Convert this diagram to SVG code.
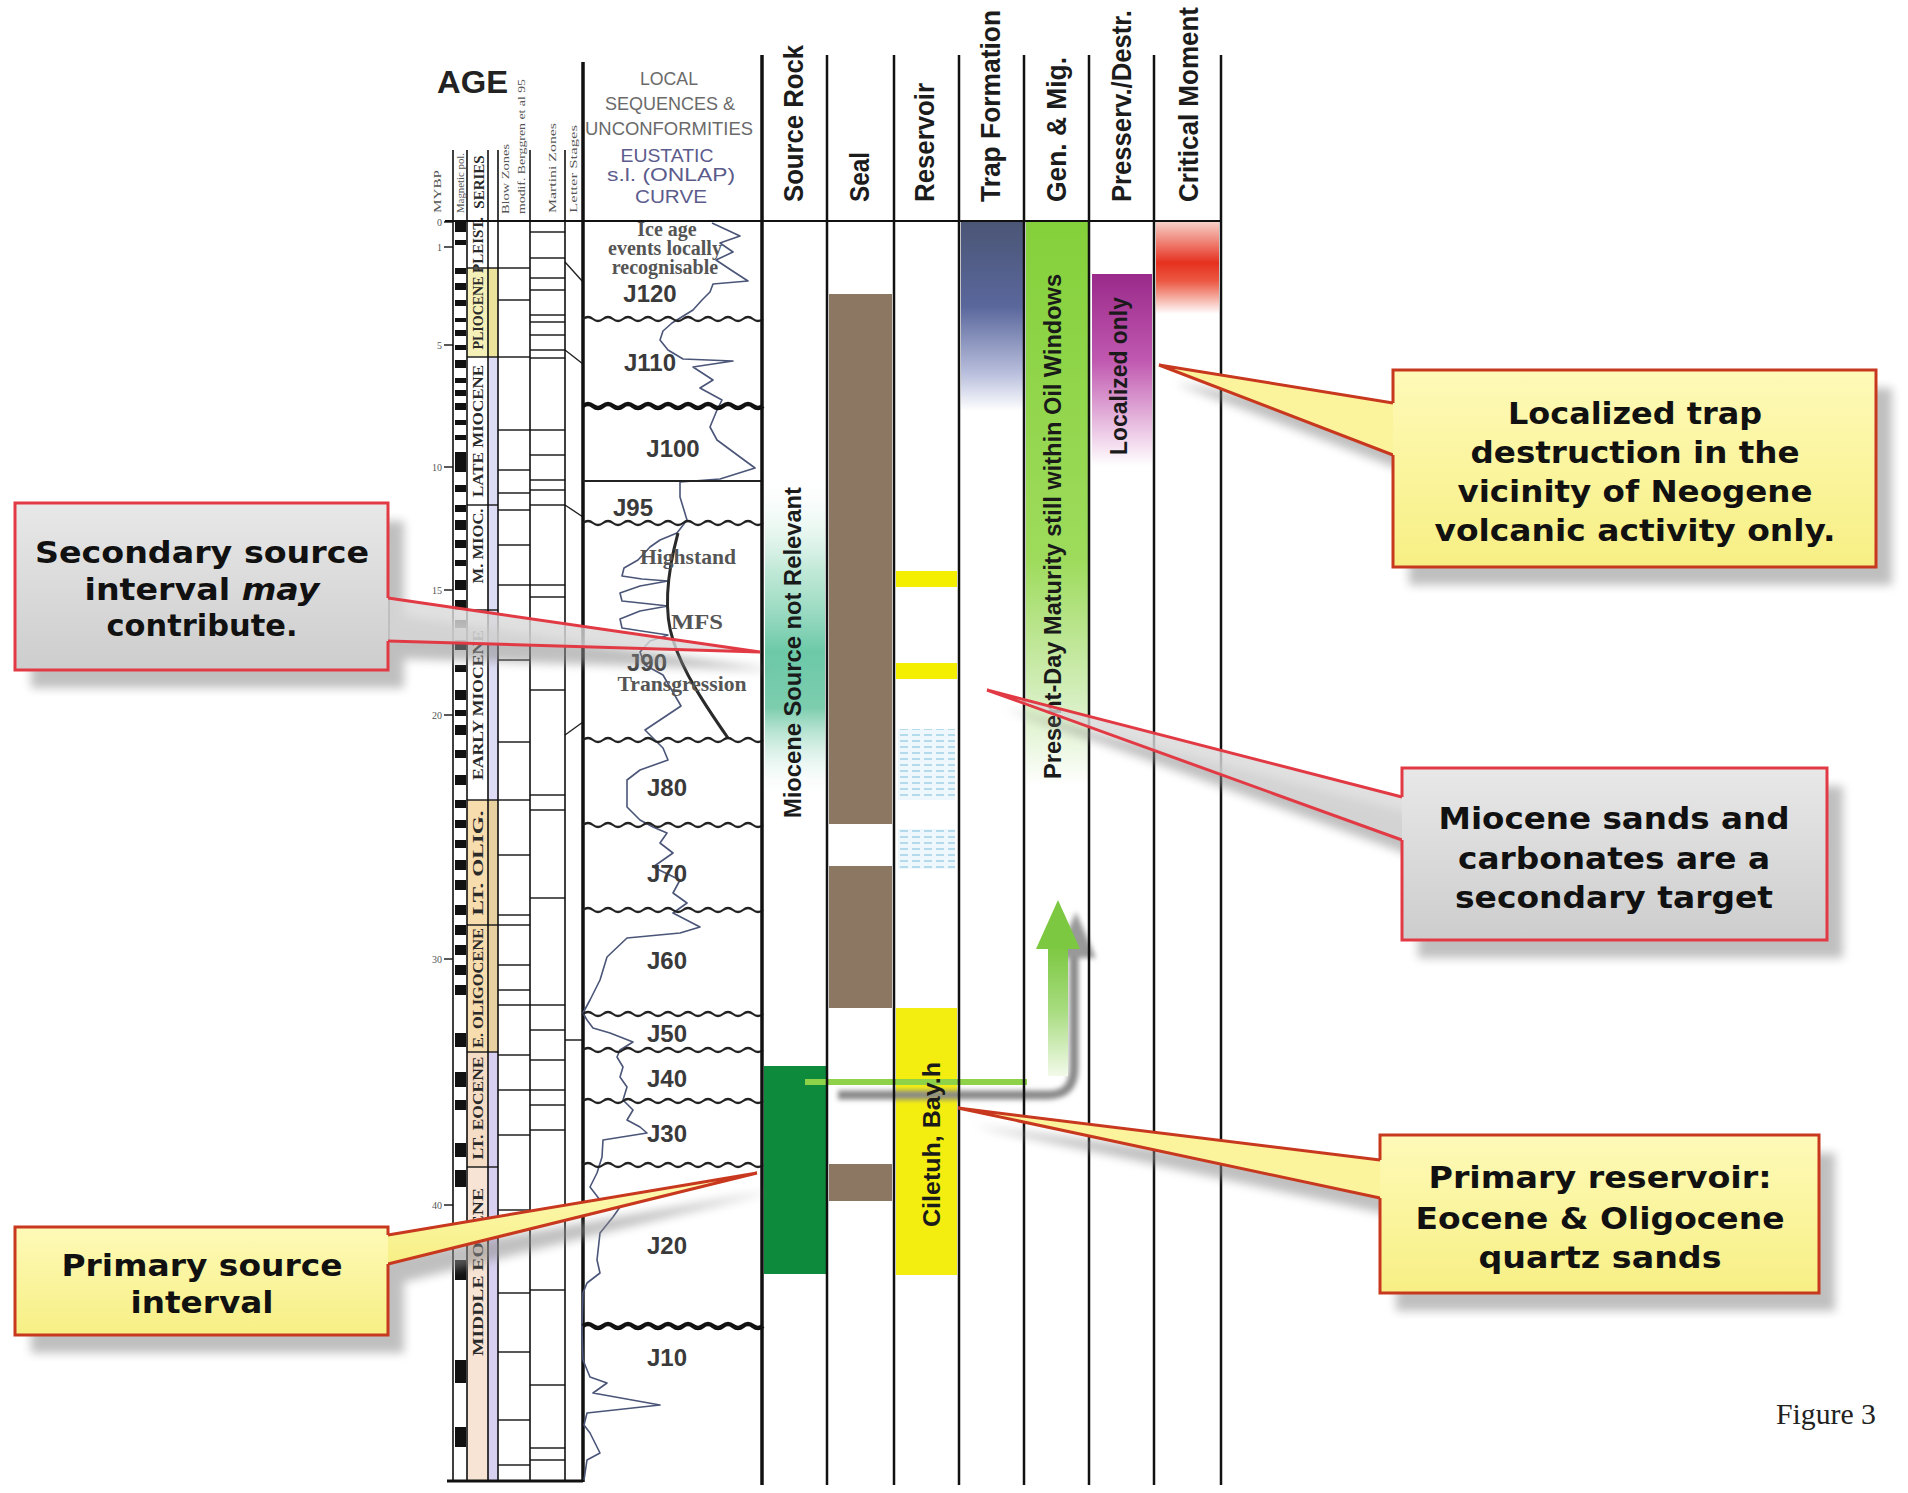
<svg xmlns="http://www.w3.org/2000/svg" xmlns:xlink="http://www.w3.org/1999/xlink" width="1908" height="1493" viewBox="0 0 1908 1493">
<defs>
<style>
.hdr{font-family:"Liberation Sans",Arial,sans-serif;font-size:27px;font-weight:bold;fill:#1c1c1c}
.seqh{font-family:"Liberation Sans",Arial,sans-serif;font-size:19px;fill:#6a6a6a;text-anchor:middle}
.eus{fill:#5b5b8c}
.jl{font-family:"Liberation Sans",Arial,sans-serif;font-weight:bold;font-size:24px;fill:#3a3a3a;text-anchor:middle}
.ser{font-family:"Liberation Serif","Times New Roman",serif;font-weight:bold;font-size:15px;fill:#2a2a2a;text-anchor:middle}
.tiny{font-family:"Liberation Serif","Times New Roman",serif;font-size:10px;fill:#555}
.seqt{font-family:"Liberation Serif","Times New Roman",serif;font-weight:bold;font-size:20px;fill:#555;text-anchor:middle}
.bar{font-family:"Liberation Sans",Arial,sans-serif;font-weight:bold;font-size:24px;fill:#1a1a1a}
.co{font-family:"DejaVu Sans",Verdana,sans-serif;font-weight:bold;font-size:31px;fill:#111;text-anchor:middle}
.vl{stroke:#111;stroke-width:2.5}
.thin{stroke:#222;stroke-width:1.4;fill:none}
.wv{fill:none;stroke:#222;stroke-width:2.2}
.wvt{fill:none;stroke:#111;stroke-width:4.5}
.bgray{fill:none;stroke:#e23a44;stroke-width:3}
.byel{fill:none;stroke:#c8381e;stroke-width:3}
.sh{fill:#8c8c8c;opacity:0.55;filter:url(#blur)}
</style>
<filter id="blur" x="-20%" y="-20%" width="140%" height="140%"><feGaussianBlur stdDeviation="5"/></filter>
<filter id="blur2" x="-20%" y="-20%" width="140%" height="140%"><feGaussianBlur stdDeviation="2.5"/></filter>
<linearGradient id="gTrap" x1="0" y1="0" x2="0" y2="1"><stop offset="0" stop-color="#4b5575"/><stop offset="0.45" stop-color="#5a679c"/><stop offset="0.8" stop-color="#b8bedc"/><stop offset="1" stop-color="#ffffff"/></linearGradient>
<linearGradient id="gGen" x1="0" y1="0" x2="0" y2="1"><stop offset="0" stop-color="#84d03a"/><stop offset="0.6" stop-color="#9edb5c"/><stop offset="0.85" stop-color="#d6efc0"/><stop offset="1" stop-color="#ffffff"/></linearGradient>
<linearGradient id="gPres" x1="0" y1="0" x2="0" y2="1"><stop offset="0" stop-color="#9a2a8a"/><stop offset="0.45" stop-color="#c058b0"/><stop offset="0.85" stop-color="#f0d2ea"/><stop offset="1" stop-color="#ffffff"/></linearGradient>
<linearGradient id="gCrit" x1="0" y1="0" x2="0" y2="1"><stop offset="0" stop-color="#f8d4cc"/><stop offset="0.45" stop-color="#e6301e"/><stop offset="0.65" stop-color="#ec5a44"/><stop offset="1" stop-color="#ffffff"/></linearGradient>
<linearGradient id="gTeal" x1="0" y1="0" x2="0" y2="1"><stop offset="0" stop-color="#ffffff" stop-opacity="0"/><stop offset="0.3" stop-color="#a8e0c8" stop-opacity="0.7"/><stop offset="0.55" stop-color="#6cc9a8"/><stop offset="0.72" stop-color="#7ccdae"/><stop offset="1" stop-color="#ffffff" stop-opacity="0"/></linearGradient>
<linearGradient id="gArrow" x1="0" y1="0" x2="0" y2="1"><stop offset="0" stop-color="#7cc840"/><stop offset="0.5" stop-color="#a8dc80"/><stop offset="1" stop-color="#f2faea"/></linearGradient>
<linearGradient id="gYel" x1="0" y1="0" x2="0" y2="1"><stop offset="0" stop-color="#fefab8"/><stop offset="1" stop-color="#f7ef84"/></linearGradient>
<linearGradient id="gGray" x1="0" y1="0" x2="0" y2="1"><stop offset="0" stop-color="#e8e8e8"/><stop offset="1" stop-color="#cdcdcd"/></linearGradient>
<pattern id="hatch" patternUnits="userSpaceOnUse" width="12" height="6"><rect width="12" height="6" fill="#eef8fc"/><line x1="0" y1="3" x2="8" y2="3" stroke="#8cc8e0" stroke-width="1.2"/></pattern>
<path id="wv" d="M0,0 q5,-4 10,0 t10,0 t10,0 t10,0 t10,0 t10,0 t10,0 t10,0 t10,0 t10,0 t10,0 t10,0 t10,0 t10,0 t10,0 t10,0 t10,0 t10,0"/>
</defs>
<rect width="1908" height="1493" fill="#ffffff"/>

<g id="chart">
<!-- age column backgrounds -->
<rect x="467" y="268" width="21" height="89" fill="#f5f0b8"/>
<rect x="467" y="800" width="21" height="252" fill="#f7dcae"/>
<rect x="467" y="1052" width="21" height="115" fill="#f5dcc5"/>
<rect x="467" y="1167" width="21" height="315" fill="#f7e4d4"/>
<rect x="488" y="268" width="10" height="89" fill="#ece49a"/>
<rect x="488" y="357" width="10" height="443" fill="#dcdcf4"/>
<rect x="488" y="800" width="10" height="252" fill="#e8d0a0"/>
<rect x="488" y="1052" width="10" height="430" fill="#d8d0f0"/>
<!-- polarity -->
<path fill="#111" d="M455,222h11v10h-11z M455,240h11v5h-11z M455,268h11v6h-11z M455,283h11v7h-11z M455,300h11v6h-11z M455,318h11v4h-11z M455,330h11v6h-11z M455,345h11v5h-11z M455,360h11v8h-11z M455,378h11v5h-11z M455,390h11v6h-11z M455,403h11v7h-11z M455,420h11v5h-11z M455,435h11v5h-11z M455,452h11v20h-11z M455,485h11v7h-11z M455,505h11v7h-11z M455,520h11v10h-11z M455,540h11v8h-11z M455,560h11v6h-11z M455,580h11v10h-11z M455,600h11v10h-11z M455,620h11v8h-11z M455,640h11v10h-11z M455,665h11v7h-11z M455,690h11v10h-11z M455,710h11v6h-11z M455,725h11v10h-11z M455,750h11v8h-11z M455,775h11v10h-11z M455,800h11v8h-11z M455,820h11v8h-11z M455,840h11v8h-11z M455,860h11v10h-11z M455,880h11v10h-11z M455,905h11v10h-11z M455,925h11v10h-11z M455,945h11v10h-11z M455,965h11v10h-11z M455,985h11v10h-11z M455,1033h11v14h-11z M455,1072h11v15h-11z M455,1100h11v10h-11z M455,1143h11v14h-11z M455,1170h11v17h-11z M455,1260h11v20h-11z M455,1360h11v23h-11z M455,1427h11v20h-11z"/>
<!-- ticks -->
<path class="thin" d="M444,222H453 M444,247H453 M444,345H453 M444,467H453 M444,590H453 M444,715H453 M444,959H453 M444,1205H453"/>
<g class="tiny" text-anchor="end">
<text x="442" y="226">0</text><text x="442" y="251">1</text><text x="442" y="349">5</text><text x="442" y="471">10</text><text x="442" y="594">15</text><text x="442" y="719">20</text><text x="442" y="963">30</text><text x="442" y="1209">40</text>
</g>
<!-- zone cell lines -->
<path class="thin" d="M467,268H498 M467,357H498 M467,505H498 M467,610H498 M467,800H498 M467,925H498 M467,1052H498 M467,1167H498"/>
<path class="thin" d="M498,268H530 M498,300H530 M498,357H530 M498,430H530 M498,470H530 M498,493H530 M498,510H530 M498,545H530 M498,585H530 M498,660H530 M498,742H530 M498,800H530 M498,855H530 M498,915H530 M498,925H530 M498,965H530 M498,990H530 M498,1005H530 M498,1055H530 M498,1090H530 M498,1135H530 M498,1210H530 M498,1293H530 M498,1352H530 M498,1420H530 M498,1465H530"/>
<path class="thin" d="M530,232H565 M530,258H565 M530,278H565 M530,290H565 M530,315H565 M530,322H565 M530,335H565 M530,350H565 M530,358H565 M530,430H565 M530,455H565 M530,480H565 M530,490H565 M530,505H565 M530,585H565 M530,597H565 M530,690H565 M530,795H565 M530,810H565 M530,898H565 M530,1005H565 M530,1030H565 M530,1060H565 M530,1090H565 M530,1105H565 M530,1130H565 M530,1215H565 M530,1290H565 M530,1385H565 M530,1448H565 M530,1460H565"/>
<path class="thin" d="M565,262L583,282 M565,350L583,364 M565,505L583,517 M565,735L583,722 M565,1040L583,1040"/>
<!-- age column vertical lines -->
<path stroke="#111" stroke-width="1.6" fill="none" d="M453,150V1482 M467,150V1482 M488,150V1482 M498,150V1482 M530,150V1482 M565,150V1482"/>
<line x1="583" y1="62" x2="583" y2="1482" stroke="#111" stroke-width="3.5"/>
<line x1="447" y1="1481" x2="583" y2="1481" stroke="#111" stroke-width="3"/>
<!-- age header texts -->
<text x="437" y="93" font-family="Liberation Sans,Arial,sans-serif" font-size="31" font-weight="bold" fill="#222" textLength="71" lengthAdjust="spacingAndGlyphs">AGE</text>
<text class="tiny" transform="translate(441,213) rotate(-90)" textLength="43" lengthAdjust="spacingAndGlyphs">MYBP</text>
<text class="tiny" transform="translate(464,213) rotate(-90)" textLength="60" lengthAdjust="spacingAndGlyphs">Magnetic pol.</text>
<text class="ser" transform="translate(484,182) rotate(-90)" font-size="14">SERIES</text>
<text class="tiny" transform="translate(509,214) rotate(-90)" textLength="70" lengthAdjust="spacingAndGlyphs">Blow Zones</text>
<text class="tiny" transform="translate(525,214) rotate(-90)" textLength="135" lengthAdjust="spacingAndGlyphs">modif. Berggren et al 95</text>
<text class="tiny" transform="translate(556,213) rotate(-90)" textLength="90" lengthAdjust="spacingAndGlyphs">Martini Zones</text>
<text class="tiny" transform="translate(577,213) rotate(-90)" textLength="88" lengthAdjust="spacingAndGlyphs">Letter Stages</text>
<!-- series labels -->
<text class="ser" transform="translate(483,245) rotate(-90)" font-size="9">PLEIST.</text>
<text class="ser" transform="translate(483,313) rotate(-90)" textLength="73" lengthAdjust="spacingAndGlyphs">PLIOCENE</text>
<text class="ser" transform="translate(483,431) rotate(-90)" textLength="132" lengthAdjust="spacingAndGlyphs">LATE MIOCENE</text>
<text class="ser" transform="translate(483,546) rotate(-90)" textLength="75" lengthAdjust="spacingAndGlyphs">M. MIOC.</text>
<text class="ser" transform="translate(483,705) rotate(-90)" textLength="150" lengthAdjust="spacingAndGlyphs">EARLY MIOCENE</text>
<text class="ser" transform="translate(483,863) rotate(-90)" textLength="105" lengthAdjust="spacingAndGlyphs">LT. OLIG.</text>
<text class="ser" transform="translate(483,988) rotate(-90)" textLength="120" lengthAdjust="spacingAndGlyphs">E. OLIGOCENE</text>
<text class="ser" transform="translate(483,1108) rotate(-90)" textLength="103" lengthAdjust="spacingAndGlyphs">LT. EOCENE</text>
<text class="ser" transform="translate(483,1272) rotate(-90)" textLength="168" lengthAdjust="spacingAndGlyphs">MIDDLE EOCENE</text>

<!-- sequence column -->
<g class="seqh">
<text x="669" y="85" textLength="58" lengthAdjust="spacingAndGlyphs">LOCAL</text>
<text x="670" y="110" textLength="130" lengthAdjust="spacingAndGlyphs">SEQUENCES &amp;</text>
<text x="669" y="135" textLength="168" lengthAdjust="spacingAndGlyphs">UNCONFORMITIES</text>
<text class="eus" x="667" y="162" textLength="93" lengthAdjust="spacingAndGlyphs">EUSTATIC</text>
<text class="eus" x="671" y="181" textLength="128" lengthAdjust="spacingAndGlyphs">s.l. (ONLAP)</text>
<text class="eus" x="671" y="203" textLength="72" lengthAdjust="spacingAndGlyphs">CURVE</text>
</g>
<polyline fill="none" stroke="#4a5578" stroke-width="1.6" stroke-linejoin="round" points="712,223 740,236 720,243 733,252 716,260 731,270 748,281 713,284 710,292 702,300 693,310 672,323 663,331 660,340 668,350 683,359 733,361 693,367 713,380 700,388 722,400 717,410 710,427 717,440 740,457 755,468 720,479 680,482 680,497 687,520 677,533 660,540 650,547 638,560 624,568 622,576 642,579 668,581 640,586 620,593 622,601 650,604 668,606 640,611 620,619 622,628 648,632 668,635 650,641 640,652 645,665 663,675 681,706 660,720 645,730 663,748 668,760 640,770 627,780 627,807 640,820 653,827 667,833 660,843 673,853 653,867 680,880 673,893 687,903 673,913 700,927 680,933 627,938 607,957 600,980 590,1000 583,1013 587,1020 593,1028 610,1033 633,1042 620,1050 617,1057 623,1067 620,1077 627,1087 623,1100 633,1110 627,1120 640,1127 647,1133 603,1140 602,1157 597,1173 590,1187 600,1200 620,1207 613,1217 600,1233 597,1260 600,1273 587,1283 583,1293 582,1330 583,1360 590,1377 607,1383 593,1393 660,1405 587,1413 584,1425 590,1433 600,1453 587,1460 584,1480"/>
<path d="M678,533 C668,570 663,610 673,640 C683,672 705,705 728,738" fill="none" stroke="#2a2a2a" stroke-width="3"/>
<use xlink:href="#wv" x="583" y="319" class="wv"/>
<use xlink:href="#wv" x="583" y="406" class="wvt"/>
<line x1="583" y1="481" x2="762" y2="481" stroke="#222" stroke-width="2.2"/>
<use xlink:href="#wv" x="583" y="523" class="wv"/>
<use xlink:href="#wv" x="583" y="740" class="wv"/>
<use xlink:href="#wv" x="583" y="825" class="wv"/>
<use xlink:href="#wv" x="583" y="910" class="wv"/>
<use xlink:href="#wv" x="583" y="1014" class="wv"/>
<use xlink:href="#wv" x="583" y="1050" class="wv"/>
<use xlink:href="#wv" x="583" y="1101" class="wv"/>
<use xlink:href="#wv" x="583" y="1165" class="wv"/>
<use xlink:href="#wv" x="583" y="1326" class="wvt"/>
<g class="seqt" font-size="14">
<text x="667" y="236">Ice age</text>
<text x="665" y="255">events locally</text>
<text x="665" y="274">recognisable</text>
</g>
<text class="seqt" x="688" y="564" textLength="96" lengthAdjust="spacingAndGlyphs">Highstand</text>
<text class="seqt" x="697" y="629" textLength="52" lengthAdjust="spacingAndGlyphs">MFS</text>
<text class="seqt" x="682" y="691" textLength="129" lengthAdjust="spacingAndGlyphs">Transgression</text>
<g class="jl">
<text x="650" y="302">J120</text>
<text x="650" y="371">J110</text>
<text x="673" y="457">J100</text>
<text x="633" y="516">J95</text>
<text x="647" y="671">J90</text>
<text x="667" y="796">J80</text>
<text x="667" y="882">J70</text>
<text x="667" y="969">J60</text>
<text x="667" y="1042">J50</text>
<text x="667" y="1087">J40</text>
<text x="667" y="1142">J30</text>
<text x="667" y="1254">J20</text>
<text x="667" y="1366">J10</text>
</g>

<!-- petroleum system columns fills -->
<rect x="765" y="470" width="60" height="330" fill="url(#gTeal)"/>
<rect x="764" y="1066" width="62" height="208" fill="#0d8a3c"/>
<rect x="829" y="294" width="63" height="530" fill="#8c7762"/>
<rect x="829" y="866" width="63" height="142" fill="#8c7762"/>
<rect x="829" y="1164" width="63" height="37" fill="#8c7762"/>
<rect x="896" y="571" width="61" height="16" fill="#f4ee00"/>
<rect x="896" y="663" width="61" height="16" fill="#f4ee00"/>
<rect x="898" y="729" width="57" height="71" fill="url(#hatch)"/>
<rect x="898" y="829" width="57" height="40" fill="url(#hatch)"/>
<rect x="896" y="1008" width="61" height="267" fill="#f4ee10"/>
<rect x="961" y="221" width="62" height="190" fill="url(#gTrap)"/>
<rect x="1026" y="221" width="62" height="565" fill="url(#gGen)"/>
<rect x="1092" y="274" width="60" height="192" fill="url(#gPres)"/>
<rect x="1156" y="221" width="63" height="93" fill="url(#gCrit)"/>

<!-- migration arrow -->
<g id="migration-arrow">
<path d="M838,1095 H1048 Q1074,1095 1074,1068 V948" fill="none" stroke="#888" stroke-width="9" filter="url(#blur2)"/>
<polygon points="1056,958 1076,912 1096,958" fill="#999" filter="url(#blur2)"/>
<line x1="805" y1="1082" x2="1027" y2="1082" stroke="#8ed24a" stroke-width="6"/>
<rect x="1048" y="946" width="20" height="130" fill="url(#gArrow)"/>
<polygon points="1036,949 1058,900 1080,949" fill="#7cc840"/>
</g>

<!-- vertical column lines -->
<line x1="445" y1="221" x2="1221" y2="221" stroke="#111" stroke-width="2"/>
<line x1="762" y1="55" x2="762" y2="1485" stroke="#111" stroke-width="3.5"/>
<path class="vl" d="M827,55V1485 M894,55V1485 M959,55V1485 M1024,55V1485 M1089,55V1485 M1154,55V1485 M1221,55V1485"/>

<!-- column headers -->
<text class="hdr" transform="translate(803,202) rotate(-90)" textLength="157" lengthAdjust="spacingAndGlyphs">Source Rock</text>
<text class="hdr" transform="translate(869,202) rotate(-90)" textLength="50" lengthAdjust="spacingAndGlyphs">Seal</text>
<text class="hdr" transform="translate(934,202) rotate(-90)" textLength="119" lengthAdjust="spacingAndGlyphs">Reservoir</text>
<text class="hdr" transform="translate(1000,202) rotate(-90)" textLength="192" lengthAdjust="spacingAndGlyphs">Trap Formation</text>
<text class="hdr" transform="translate(1066,202) rotate(-90)" textLength="145" lengthAdjust="spacingAndGlyphs">Gen. &amp; Mig.</text>
<text class="hdr" transform="translate(1131,202) rotate(-90)" textLength="192" lengthAdjust="spacingAndGlyphs">Presserv./Destr.</text>
<text class="hdr" transform="translate(1198,202) rotate(-90)" textLength="195" lengthAdjust="spacingAndGlyphs" fill="#e23c34">Critical Moment</text>

<!-- bar labels -->
<text class="bar" transform="translate(801,818) rotate(-90)" textLength="331" lengthAdjust="spacingAndGlyphs">Miocene Source not Relevant</text>
<text class="bar" transform="translate(1061,779) rotate(-90)" textLength="505" lengthAdjust="spacingAndGlyphs">Present-Day Maturity still within Oil Windows</text>
<text class="bar" transform="translate(1127,455) rotate(-90)" textLength="158" lengthAdjust="spacingAndGlyphs">Localized only</text>
<text class="bar" transform="translate(940,1227) rotate(-90)" textLength="165" lengthAdjust="spacingAndGlyphs">Ciletuh, Bay.h</text>

<text x="1776" y="1424" font-family="Liberation Serif,Times New Roman,serif" font-size="29" fill="#222" textLength="100" lengthAdjust="spacingAndGlyphs">Figure 3</text>
</g>

<!-- shadows -->
<g id="shadows">
<path class="sh" transform="translate(16,18)" d="M15,503 H388 V598 L760,652 L388,641 V670 H15 Z"/>
<path class="sh" transform="translate(16,18)" d="M15,1227 H388 V1235 L757,1173 L388,1264 V1335 H15 Z"/>
<path class="sh" transform="translate(16,18)" d="M1393,370 H1876 V567 H1393 V455 L1159,365 L1393,403 Z"/>
<path class="sh" transform="translate(16,18)" d="M1402,768 H1827 V940 H1402 V840 L987,690 L1402,797 Z"/>
<path class="sh" transform="translate(16,18)" d="M1380,1135 H1819 V1293 H1380 V1198 L958,1108 L1380,1160 Z"/>
</g>

<g id="connectors">
<polygon points="390,598 760,652 390,641" fill="#d8d8d8" fill-opacity="0.8"/>
<polyline class="bgray" points="388,598 760,652 388,641"/>
<polygon points="386,1235 757,1173 386,1264" fill="url(#gYel)"/>
<polyline class="byel" points="388,1235 757,1173 388,1264"/>
<polygon points="1395,403 1159,365 1395,455" fill="#fbf49c"/>
<polyline class="byel" points="1393,403 1159,365 1393,455"/>
<polygon points="1404,797 987,690 1404,840" fill="#d8d8d8" fill-opacity="0.8"/>
<polyline class="bgray" points="1402,797 987,690 1402,840"/>
<polygon points="1382,1160 958,1108 1382,1198" fill="#fbf49c"/>
<polyline class="byel" points="1380,1160 958,1108 1380,1198"/>
</g>

<g id="callout-secondary-source">
<rect x="15" y="503" width="373" height="167" fill="url(#gGray)"/>
<path class="bgray" d="M388,598 V503 H15 V670 H388 V641"/>
<text class="co" x="202" y="563" textLength="334" lengthAdjust="spacingAndGlyphs">Secondary source</text>
<text class="co" x="202" y="600" textLength="235" lengthAdjust="spacingAndGlyphs">interval <tspan font-style="italic">may</tspan></text>
<text class="co" x="202" y="636" textLength="191" lengthAdjust="spacingAndGlyphs">contribute.</text>
</g>

<g id="callout-primary-source">
<rect x="15" y="1227" width="373" height="108" fill="url(#gYel)"/>
<path class="byel" d="M388,1235 V1227 H15 V1335 H388 V1264"/>
<text class="co" x="202" y="1276" textLength="281" lengthAdjust="spacingAndGlyphs">Primary source</text>
<text class="co" x="202" y="1313" textLength="143" lengthAdjust="spacingAndGlyphs">interval</text>
</g>

<g id="callout-trap-destruction">
<rect x="1393" y="370" width="483" height="197" fill="url(#gYel)"/>
<path class="byel" d="M1393,403 V370 H1876 V567 H1393 V455"/>
<text class="co" x="1635" y="424" textLength="254" lengthAdjust="spacingAndGlyphs">Localized trap</text>
<text class="co" x="1635" y="463" textLength="329" lengthAdjust="spacingAndGlyphs">destruction in the</text>
<text class="co" x="1635" y="502" textLength="355" lengthAdjust="spacingAndGlyphs">vicinity of Neogene</text>
<text class="co" x="1635" y="541" textLength="401" lengthAdjust="spacingAndGlyphs">volcanic activity only.</text>
</g>

<g id="callout-miocene-sands">
<rect x="1402" y="768" width="425" height="172" fill="url(#gGray)"/>
<path class="bgray" d="M1402,797 V768 H1827 V940 H1402 V840"/>
<text class="co" x="1614" y="829" textLength="351" lengthAdjust="spacingAndGlyphs">Miocene sands and</text>
<text class="co" x="1614" y="869" textLength="312" lengthAdjust="spacingAndGlyphs">carbonates are a</text>
<text class="co" x="1614" y="908" textLength="318" lengthAdjust="spacingAndGlyphs">secondary target</text>
</g>

<g id="callout-primary-reservoir">
<rect x="1380" y="1135" width="439" height="158" fill="url(#gYel)"/>
<path class="byel" d="M1380,1160 V1135 H1819 V1293 H1380 V1198"/>
<text class="co" x="1600" y="1188" textLength="343" lengthAdjust="spacingAndGlyphs">Primary reservoir:</text>
<text class="co" x="1600" y="1229" textLength="369" lengthAdjust="spacingAndGlyphs">Eocene &amp; Oligocene</text>
<text class="co" x="1600" y="1268" textLength="243" lengthAdjust="spacingAndGlyphs">quartz sands</text>
</g>
</svg>
